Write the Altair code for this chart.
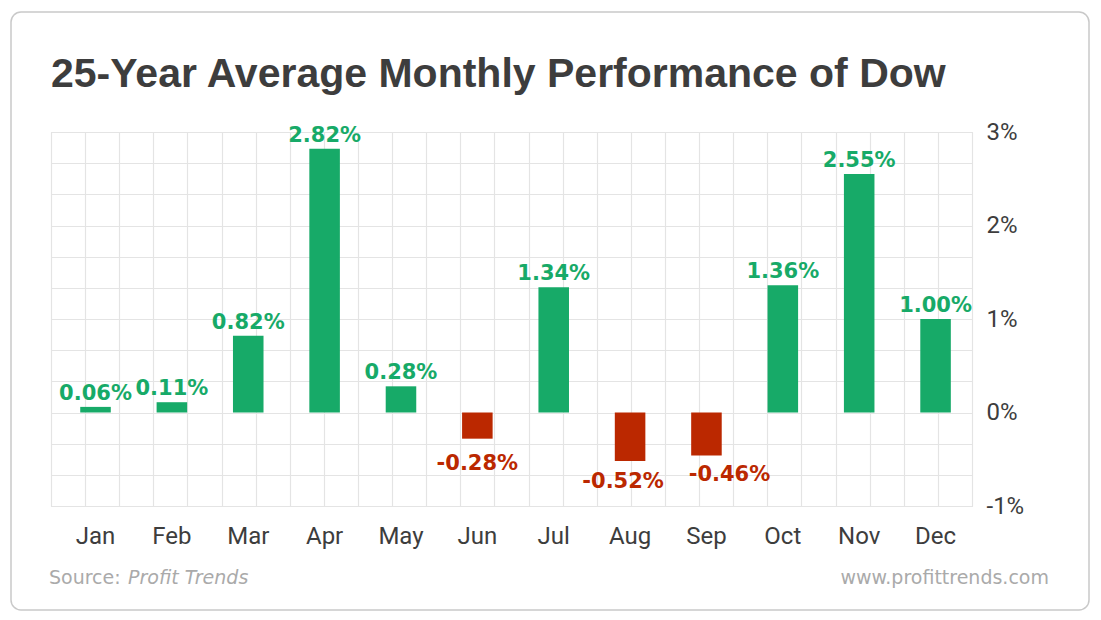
import altair as alt
import pandas as pd

MONTHS = ["Jan", "Feb", "Mar", "Apr", "May", "Jun", "Jul", "Aug", "Sep", "Oct", "Nov", "Dec"]
AVG_RETURN = [0.06, 0.11, 0.82, 2.82, 0.28, -0.28, 1.34, -0.52, -0.46, 1.36, 2.55, 1.00]

TITLE = "25-Year Average Monthly Performance of Dow"
SOURCE_LABEL = "Source:"
SOURCE_NAME = "Profit Trends"
SITE = "www.profittrends.com"

GREEN = "#17aa68"
RED = "#bb2800"
GRID = "#e4e4e4"
INK = "#3d3d3d"

W, H = 921, 374

df = pd.DataFrame({"month": MONTHS, "ret": AVG_RETURN})
df["dir"] = ["up" if v >= 0 else "down" for v in AVG_RETURN]
df["label"] = [("-" if v < 0 else "") + f"{abs(v):.2f}%" for v in AVG_RETURN]

color = alt.Color("dir:N", scale=alt.Scale(domain=["up", "down"], range=[GREEN, RED]), legend=None)
yscale = alt.Scale(domain=[-1, 3], nice=False)
xscale = alt.Scale(domain=MONTHS, paddingInner=0.6, paddingOuter=0.33, align=0.58)

base = alt.Chart(df).encode(
    x=alt.X(
        "month:N", sort=MONTHS, title=None, scale=xscale,
        axis=alt.Axis(labelAngle=0, ticks=False, domain=False, grid=False,
                      labelFont="Roboto", labelFontSize=24, labelColor=INK,
                      labelPadding=18),
    ),
    y=alt.Y(
        "ret:Q", title=None, scale=yscale,
        axis=alt.Axis(orient="right", values=[i / 3 for i in range(-3, 10)],
                      labelExpr="abs(datum.value - round(datum.value)) < 0.001 ? round(datum.value) + '%' : ''",
                      labelOverlap=False, ticks=False, domain=False, grid=True,
                      gridColor=GRID, gridWidth=1.2,
                      labelFont="Roboto", labelFontSize=24, labelColor=INK,
                      labelPadding=14, labelAlign="left", labelBaseline="middle"),
    ),
    color=color,
)

label_style = dict(font="DejaVu Sans", fontWeight="bold", fontSize=21, baseline="alphabetic")

bars = base.mark_bar()
pos_labels = base.transform_filter("datum.ret >= 0").mark_text(dy=-7, **label_style).encode(text="label:N")
# negative labels sit under the bars; Aug/Sep are pushed apart so they don't collide
neg_default = base.transform_filter("datum.ret < 0 && datum.month != 'Aug' && datum.month != 'Sep'").mark_text(
    dy=31, **label_style).encode(text="label:N")
neg_aug = base.transform_filter("datum.month == 'Aug'").mark_text(dx=-7, dy=27, **label_style).encode(text="label:N")
neg_sep = base.transform_filter("datum.month == 'Sep'").mark_text(dx=23, dy=25, **label_style).encode(text="label:N")
data_layer = alt.layer(bars, pos_labels, neg_default, neg_aug, neg_sep)

# vertical grid: 27 equal columns across the plot, independent of the month bands
grid = alt.Chart(df).mark_point(opacity=0).transform_calculate(g="0").encode(
    x=alt.X("g:Q", scale=alt.Scale(domain=[0, 27], nice=False),
            axis=alt.Axis(orient="top", values=list(range(28)), labels=False, ticks=False,
                          domain=False, grid=True, gridColor=GRID, gridWidth=1.2, title=None)),
)

card = alt.Chart(pd.DataFrame({"k": [0]})).mark_rect(
    cornerRadius=10, fillOpacity=0, stroke="#c9c9c9", strokeWidth=1.5
).encode(x=alt.value(-40), x2=alt.value(1038), y=alt.value(-120), y2=alt.value(478))

title = alt.Chart(pd.DataFrame({"t": [TITLE]})).mark_text(
    align="left", baseline="alphabetic", font="Liberation Sans", fontSize=41,
    fontWeight="bold", color=INK
).encode(text="t:N", x=alt.value(0), y=alt.value(-45))

foot = dict(font="DejaVu Sans", fontSize=19, color="#aaaaaa", baseline="alphabetic")
src_label = alt.Chart(pd.DataFrame({"t": [SOURCE_LABEL]})).mark_text(align="left", **foot).encode(
    text="t:N", x=alt.value(-2), y=alt.value(452))
src_name = alt.Chart(pd.DataFrame({"t": [SOURCE_NAME]})).mark_text(align="left", fontStyle="italic", **foot).encode(
    text="t:N", x=alt.value(77), y=alt.value(452))
site = alt.Chart(pd.DataFrame({"t": [SITE]})).mark_text(align="right", **foot).encode(
    text="t:N", x=alt.value(998), y=alt.value(452))

chart = (
    alt.layer(card, grid, data_layer, title, src_label, src_name, site)
    .resolve_scale(x="independent")
    .properties(
        width=W, height=H,
        autosize="none",
        padding={"left": 43, "top": 124, "right": 121, "bottom": 106},
    )
    .configure_view(strokeWidth=0)
    .configure(background="white")
)

chart.save("out.html", embed_options={"renderer": "svg", "actions": False})
